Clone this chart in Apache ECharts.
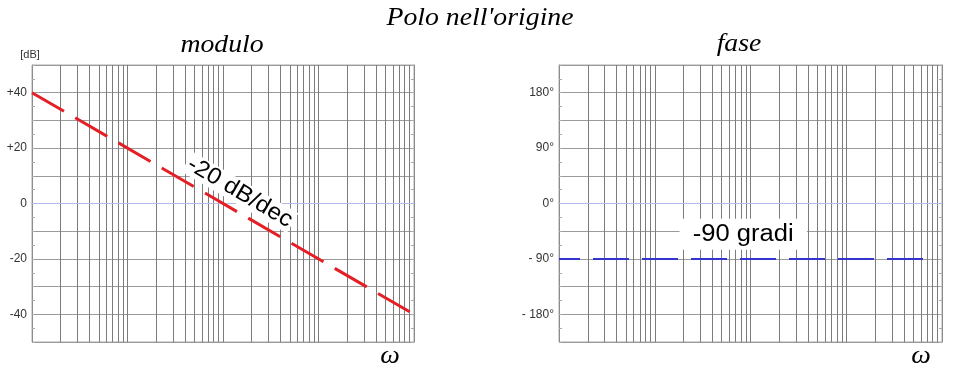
<!DOCTYPE html>
<html><head><meta charset="utf-8">
<script src="https://cdn.jsdelivr.net/npm/echarts@6/dist/echarts.min.js"></script>
<style>html,body{margin:0;padding:0;background:#fff}#c{width:976px;height:386px}</style>
</head><body><div id="c"></div>
<script>
// ---- data ----
const omegaMin = 1;
const omegaMax = 10000;
const gainOmega = [1, 9000];
const gainDb = [40, -39.1];
const phaseOmega = [1, 7000];
const phaseDeg = [-90, -90];
const gainTickValues = [40, 20, 0, -20, -40];
const gainTickLabels = ['+40', '+20', '0', '-20', '-40'];
const phaseTickValues = [180, 90, 0, -90, -180];
const phaseTickLabels = ['180°', '90°', '0°', '- 90°', '- 180°'];
const decadeStarts = [1, 10, 100, 1000];
const gridMultipliers = [2, 3, 4, 5, 6, 7, 8, 9];
const gainNote = {text: '-20 dB/dec', omega: 150, value: 4};
const phaseNote = {text: '-90 gradi', omega: 84, value: -50};

// ---- build ----
const vLines = [];
decadeStarts.forEach(d => gridMultipliers.forEach(m => vLines.push({xAxis: d * m})));
const VCOL = '#7c7c7c', HCOL = '#9a9a9a', ZCOL = '#b5b9e8';
const FONT = 'Liberation Sans';

function fmt(values, labels) {
  return v => { const i = values.indexOf(v); return i >= 0 ? labels[i] : ''; };
}
function xAx(gi) {
  return {type: 'log', logBase: 10, gridIndex: gi, min: omegaMin, max: omegaMax,
    axisLabel: {show: false}, axisTick: {show: false},
    axisLine: {show: true, lineStyle: {color: '#999', width: 1}},
    splitLine: {show: true, lineStyle: {color: VCOL, width: 1}}, minorTick: {show: false}};
}
function yAx(gi, min, max, interval, formatter, right) {
  return {type: 'value', gridIndex: gi, min, max, interval, position: right ? 'right' : 'left',
    axisLine: {show: true, lineStyle: {color: '#8c8c8c', width: 1}},
    axisTick: {show: true, inside: true, length: 3, lineStyle: {color: '#aaa'}},
    minorTick: {show: true, splitNumber: 2, length: 3, lineStyle: {color: '#aaa'}},
    axisLabel: right ? {show: false} : {show: true, formatter, color: '#333', fontFamily: FONT, fontSize: 12, margin: 5},
    splitLine: {show: !right, lineStyle: {color: HCOL, width: 1}}};
}
function gridSeries(xi, yi) {
  return {type: 'line', xAxisIndex: xi, yAxisIndex: yi, data: [], z: 1, silent: true,
    markLine: {silent: true, symbol: 'none', animation: false, label: {show: false},
      data: vLines.map(o => Object.assign({lineStyle: {color: VCOL, width: 1, type: 'solid'}}, o))
        .concat([{yAxis: 0, lineStyle: {color: ZCOL, width: 1, type: 'solid'}}])}};
}

const chart = echarts.init(document.getElementById('c'), null, {renderer: 'canvas'});
chart.setOption({
  animation: false,
  backgroundColor: '#fff',
  grid: [
    {left: 32, right: 562, top: 65, bottom: 44, show: true, borderColor: '#aaa', borderWidth: 1, backgroundColor: 'transparent'},
    {left: 559, right: 34, top: 65, bottom: 44, show: true, borderColor: '#aaa', borderWidth: 1, backgroundColor: 'transparent'}
  ],
  xAxis: [xAx(0), xAx(1)],
  yAxis: [
    yAx(0, -50, 50, 10, fmt(gainTickValues, gainTickLabels), false),
    yAx(1, -225, 225, 45, fmt(phaseTickValues, phaseTickLabels), false),
    yAx(0, -50, 50, 10, null, true),
    yAx(1, -225, 225, 45, null, true)
  ],
  series: [
    gridSeries(0, 0),
    gridSeries(1, 1),
    {type: 'line', xAxisIndex: 0, yAxisIndex: 0, z: 5, symbol: 'none',
      data: gainOmega.map((w, i) => [w, gainDb[i]]),
      lineStyle: {color: '#e51f26', width: 3, type: [37, 13], cap: 'butt'}},
    {type: 'line', xAxisIndex: 1, yAxisIndex: 1, z: 5, symbol: 'none',
      data: phaseOmega.map((w, i) => [w, phaseDeg[i]]),
      lineStyle: {color: '#3434d0', width: 2, type: [36, 13], dashOffset: 15, cap: 'butt'}}
  ]
});

const p1 = chart.convertToPixel({gridIndex: 0}, [gainNote.omega, gainNote.value]);
const p2 = chart.convertToPixel({gridIndex: 1}, [phaseNote.omega, phaseNote.value]);
const serif = 'italic 25px "Liberation Serif"';
function ttl(text, x, y) {
  return {type: 'text', x, y, scaleX: 1.11, z: 10,
    style: {text, font: serif, fill: '#000', align: 'center', verticalAlign: 'middle'}};
}
chart.setOption({
  graphic: [
    ttl("Polo nell'origine", 480, 18),
    ttl('modulo', 222, 45),
    ttl('fase', 739, 44),
    ttl('ω', 390, 356),
    ttl('ω', 921, 356),
    {type: 'text', x: 30, y: 55, z: 10, style: {text: '[dB]', font: '11px "Liberation Sans"', fill: '#333', align: 'center', verticalAlign: 'middle'}},
    {type: 'text', x: p1[0], y: p1[1], rotation: -30.3 * Math.PI / 180, scaleX: 1.06, z: 8,
      style: {text: gainNote.text, font: '23px "Liberation Sans"', fill: '#000', align: 'center', verticalAlign: 'middle', backgroundColor: '#fff', padding: [0, 2]}},
    {type: 'text', x: p2[0], y: p2[1], scaleX: 1.11, z: 8,
      style: {text: phaseNote.text, font: '23px "Liberation Sans"', fill: '#000', align: 'center', verticalAlign: 'middle', backgroundColor: '#fff', padding: [4, 12]}}
  ]
});
</script></body></html>
